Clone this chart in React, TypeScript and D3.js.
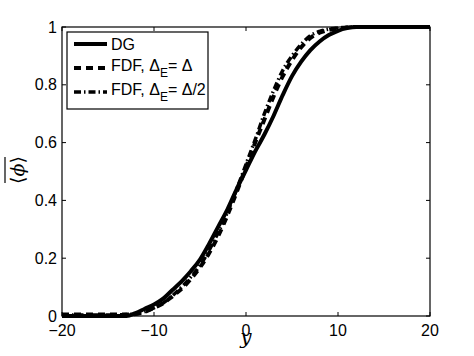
import React from "react";
import * as d3 from "d3";

const yGrid = [-20, -14, -13, -12, -11, -10, -9, -8, -7, -6, -5, -4, -3, -2, -1, 0, 1, 2, 3, 4, 5, 6, 7, 8, 9, 10, 11, 12, 20];
const dgValues = [0, 0, 0, 0.01, 0.025, 0.04, 0.06, 0.09, 0.12, 0.155, 0.195, 0.25, 0.31, 0.37, 0.44, 0.505, 0.57, 0.628, 0.693, 0.765, 0.83, 0.88, 0.92, 0.95, 0.972, 0.987, 0.996, 1, 1];
const fdfValues = [0.005, 0.005, 0.005, 0.007, 0.014, 0.028, 0.044, 0.068, 0.094, 0.128, 0.168, 0.218, 0.278, 0.35, 0.43, 0.515, 0.6, 0.68, 0.76, 0.83, 0.885, 0.93, 0.962, 0.98, 0.99, 0.995, 0.998, 1, 1];
const fdfHalfValues = [0.003, 0.004, 0.005, 0.007, 0.015, 0.028, 0.045, 0.07, 0.1, 0.135, 0.175, 0.228, 0.29, 0.36, 0.44, 0.525, 0.61, 0.7, 0.78, 0.85, 0.9, 0.94, 0.97, 0.985, 0.993, 0.997, 0.999, 1, 1];
const xTicks = [-20, -10, 0, 10, 20];
const yTicks = [0, 0.2, 0.4, 0.6, 0.8, 1];
const xTickLabels = ["\u221220", "\u221210", "0", "10", "20"];
const yTickLabels = ["0", "0.2", "0.4", "0.6", "0.8", "1"];

const W = 474, H = 356;
const L = 62, R = 430, T = 27, B = 316;

export default function App() {
  const x = d3.scaleLinear().domain([-20, 20]).range([L, R]);
  const y = d3.scaleLinear().domain([0, 1]).range([B, T]);
  const line = d3
    .line<[number, number]>()
    .x((d) => x(d[0]))
    .y((d) => y(d[1]))
    .curve(d3.curveMonotoneX);
  const mk = (vals: number[]) => yGrid.map((g, i) => [g, vals[i]] as [number, number]);
  const font = "Liberation Sans, Arial, Helvetica, sans-serif";
  const series = [
    { vals: dgValues, dash: undefined as string | undefined, w: 4 },
    { vals: fdfValues, dash: "7,5", w: 4 },
    { vals: fdfHalfValues, dash: "7,3,1.5,3", w: 3.5 },
  ];
  const legendY = [44, 68, 92];
  return (
    <svg width={W} height={H} style={{ position: "absolute", left: 0, top: 0, background: "#fff" }} fontFamily={font}>
      <rect x={0} y={0} width={W} height={H} fill="#fff" />
      <defs>
        <clipPath id="plot">
          <rect x={L} y={T - 3} width={R - L} height={B - T + 6} />
        </clipPath>
      </defs>
      <g clipPath="url(#plot)">
        {series.map((s, i) => (
          <path key={i} d={line(mk(s.vals)) || ""} fill="none" stroke="#000" strokeWidth={s.w} strokeDasharray={s.dash} />
        ))}
      </g>
      <rect x={L} y={T} width={R - L} height={B - T} fill="none" stroke="#000" strokeWidth={1.2} />
      {xTicks.map((t, i) => (
        <g key={"x" + i}>
          <line x1={x(t)} x2={x(t)} y1={B} y2={B - 4} stroke="#000" />
          <line x1={x(t)} x2={x(t)} y1={T} y2={T + 4} stroke="#000" />
          <text x={x(t)} y={336} fontSize={16} textAnchor="middle">{xTickLabels[i]}</text>
        </g>
      ))}
      {yTicks.map((t, i) => (
        <g key={"y" + i}>
          <line x1={L} x2={L + 4} y1={y(t)} y2={y(t)} stroke="#000" />
          <line x1={R} x2={R - 4} y1={y(t)} y2={y(t)} stroke="#000" />
          <text x={57} y={y(t) + 5.5} fontSize={16} textAnchor="end">{yTickLabels[i]}</text>
        </g>
      ))}
      <text x={x(0)} y={344} fontSize={20} fontStyle="italic" fontFamily="DejaVu Serif, Liberation Serif, serif" textAnchor="middle">y</text>
      <g transform="translate(24,170) rotate(-90)">
        <text x={0} y={0} fontSize={19} textAnchor="middle" fontFamily="DejaVu Serif, Liberation Serif, serif">
          {"\u27E8"}
          <tspan fontStyle="italic">{"\u03D5"}</tspan>
          {"\u27E9"}
        </text>
        <line x1={-13} x2={13} y1={-19} y2={-19} stroke="#000" strokeWidth={1.2} />
      </g>
      <rect x={67} y={32} width={141} height={77} fill="#fff" stroke="#000" strokeWidth={1.2} />
      {series.map((s, i) => (
        <line key={"l" + i} x1={74} x2={107} y1={legendY[i]} y2={legendY[i]} stroke="#000" strokeWidth={s.w} strokeDasharray={s.dash} />
      ))}
      <text x={111} y={legendY[0] + 6} fontSize={16}>DG</text>
      <text x={111} y={legendY[1] + 3} fontSize={16}>
        FDF, Δ<tspan fontSize={12} dy={6}>E</tspan><tspan dy={-6}>= Δ</tspan>
      </text>
      <text x={111} y={legendY[2] + 3} fontSize={16}>
        FDF, Δ<tspan fontSize={12} dy={6}>E</tspan><tspan dy={-6}>= Δ/2</tspan>
      </text>
    </svg>
  );
}
